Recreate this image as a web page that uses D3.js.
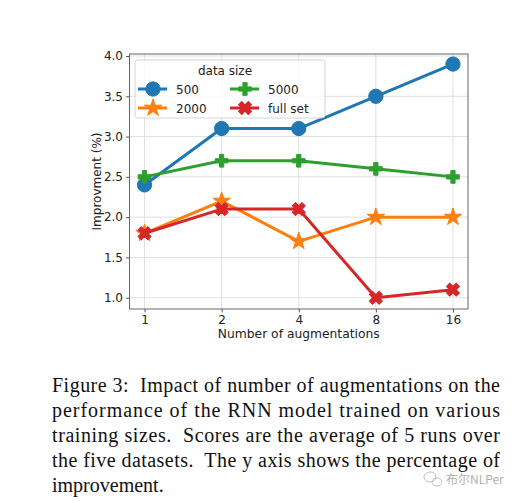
<!DOCTYPE html>
<html>
<head>
<meta charset="utf-8">
<script src="https://cdn.jsdelivr.net/npm/d3@7"></script>
<style>
  body { margin: 0; background: #fff; }
  svg { display: block; }
</style>
</head>
<body>
<svg id="chart" width="529" height="501"></svg>
<script>
// data
const augmentations = ["1", "2", "4", "8", "16"];
const seriesNames = ["500", "2000", "5000", "full set"];
const vals500 = [2.4, 3.1, 3.1, 3.5, 3.9];
const vals2000 = [1.8, 2.2, 1.7, 2.0, 2.0];
const vals5000 = [2.5, 2.7, 2.7, 2.6, 2.5];
const valsFull = [1.8, 2.1, 2.1, 1.0, 1.1];
const yTicks = [1.0, 1.5, 2.0, 2.5, 3.0, 3.5, 4.0];
const captionLines = [
  "Figure 3:  Impact of number of augmentations on the",
  "performance of the RNN model trained on various",
  "training sizes.  Scores are the average of 5 runs over",
  "the five datasets.  The y axis shows the percentage of",
  "improvement."
];

const colors = ["#1f77b4", "#ff7f0e", "#2ca02c", "#d62728"];
const series = [
  { name: seriesNames[0], values: vals500, color: colors[0], sym: d3.symbolCircle, size: 160, rot: 0 },
  { name: seriesNames[1], values: vals2000, color: colors[1], sym: d3.symbolStar, size: 95, rot: 0 },
  { name: seriesNames[2], values: vals5000, color: colors[2], sym: d3.symbolCross, size: 90, rot: 0 },
  { name: seriesNames[3], values: valsFull, color: colors[3], sym: d3.symbolCross, size: 105, rot: 45 }
];

const svg = d3.select("#chart");
const plot = { left: 129.5, right: 468, top: 54, bottom: 309 };
const font = "DejaVu Sans, sans-serif";

const x = d3.scalePoint()
  .domain(augmentations)
  .range([plot.left, plot.right])
  .padding(0.195);

const y = d3.scaleLinear()
  .domain([0.86, 4.025])
  .range([plot.bottom, plot.top]);

// grid
const grid = svg.append("g").attr("stroke", "#dcdcdc").attr("stroke-width", 0.9);
grid.selectAll(".gx").data(augmentations).enter().append("line")
  .attr("x1", d => x(d)).attr("x2", d => x(d))
  .attr("y1", plot.top).attr("y2", plot.bottom);
grid.selectAll(".gy").data(yTicks).enter().append("line")
  .attr("x1", plot.left).attr("x2", plot.right)
  .attr("y1", d => y(d)).attr("y2", d => y(d));

// axes
const xAxis = svg.append("g")
  .attr("transform", `translate(0,${plot.bottom})`)
  .call(d3.axisBottom(x).tickSize(3.5).tickPadding(3));
const yAxis = svg.append("g")
  .attr("transform", `translate(${plot.left},0)`)
  .call(d3.axisLeft(y).tickValues(yTicks).tickFormat(d3.format(".1f")).tickSize(3.5).tickPadding(3));
[xAxis, yAxis].forEach(a => {
  a.select(".domain").remove();
  a.selectAll("line").attr("stroke", "#444").attr("stroke-width", 0.9);
  a.selectAll("text").attr("font-family", font).attr("font-size", 12).attr("fill", "#222");
});

svg.append("rect")
  .attr("x", plot.left).attr("y", plot.top)
  .attr("width", plot.right - plot.left).attr("height", plot.bottom - plot.top)
  .attr("fill", "none").attr("stroke", "#555").attr("stroke-width", 0.9);

svg.append("text")
  .attr("x", (plot.left + plot.right) / 2).attr("y", 338)
  .attr("text-anchor", "middle")
  .attr("font-family", font).attr("font-size", 12.3).attr("fill", "#222")
  .text("Number of augmentations");

svg.append("text")
  .attr("transform", `translate(101,${(plot.top + plot.bottom) / 2}) rotate(-90)`)
  .attr("text-anchor", "middle")
  .attr("font-family", font).attr("font-size", 12).attr("fill", "#222")
  .text("Improvment (%)");

// lines + markers
const line = d3.line().x((d, i) => x(augmentations[i])).y(d => y(d));
series.forEach(s => {
  const g = svg.append("g");
  g.append("path")
    .attr("d", line(s.values))
    .attr("fill", "none").attr("stroke", s.color).attr("stroke-width", 3)
    .attr("stroke-linejoin", "round");
  g.selectAll("path.m").data(s.values).enter().append("path")
    .attr("class", "m")
    .attr("d", d3.symbol(s.sym, s.size))
    .attr("transform", (d, i) => `translate(${x(augmentations[i])},${y(d)}) rotate(${s.rot})`)
    .attr("fill", s.color)
    .attr("stroke", s.color).attr("stroke-width", 1);
});

// legend
const legend = svg.append("g");
legend.append("rect")
  .attr("x", 135).attr("y", 60).attr("width", 190).attr("height", 58).attr("rx", 3)
  .attr("fill", "rgba(255,255,255,0.8)").attr("stroke", "#d0d0d0").attr("stroke-width", 0.9);
legend.append("text")
  .attr("x", 225).attr("y", 75)
  .attr("text-anchor", "middle")
  .attr("font-family", font).attr("font-size", 12).attr("fill", "#222")
  .text("data size");
series.forEach((s, i) => {
  const col = Math.floor(i / 2), row = i % 2;
  const lx = 138 + col * 92, ly = 89 + row * 19;
  const item = legend.append("g");
  item.append("line")
    .attr("x1", lx).attr("x2", lx + 29).attr("y1", ly).attr("y2", ly)
    .attr("stroke", s.color).attr("stroke-width", 3);
  item.append("path")
    .attr("d", d3.symbol(s.sym, s.size))
    .attr("transform", `translate(${lx + 15},${ly}) rotate(${s.rot})`)
    .attr("fill", s.color)
    .attr("stroke", s.color).attr("stroke-width", 1);
  item.append("text")
    .attr("x", lx + 38).attr("y", ly + 4.5)
    .attr("font-family", font).attr("font-size", 12).attr("fill", "#222")
    .text(s.name);
});

// caption, justified lines
const cap = svg.append("g")
  .attr("font-family", "Liberation Serif, Times New Roman, serif")
  .attr("font-size", 20).attr("fill", "#111");
captionLines.forEach((t, i) => {
  const txt = cap.append("text")
    .attr("x", 52).attr("y", 392 + i * 25)
    .attr("xml:space", "preserve")
    .text(t);
  if (i < captionLines.length - 1) {
    txt.attr("textLength", 448).attr("lengthAdjust", "spacing");
  }
});

// watermark
const wm = svg.append("g").attr("fill", "none").attr("stroke", "#b8b8b8").attr("stroke-width", 0.9);
wm.append("ellipse").attr("cx", 430).attr("cy", 477).attr("rx", 6).attr("ry", 5);
wm.append("ellipse").attr("cx", 437).attr("cy", 482).attr("rx", 5).attr("ry", 4);
svg.append("text")
  .attr("x", 446).attr("y", 484)
  .attr("font-family", "Noto Sans CJK SC, sans-serif").attr("font-size", 12)
  .attr("fill", "#b0b0b0")
  .text("布尔NLPer");
</script>
</body>
</html>
